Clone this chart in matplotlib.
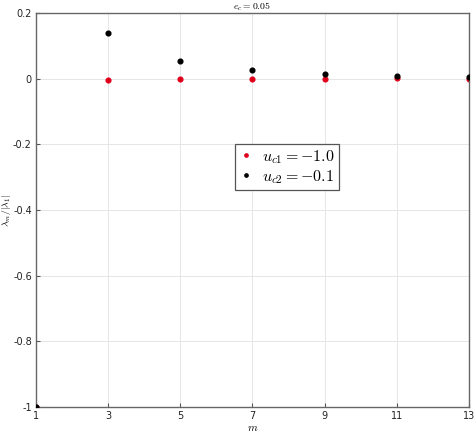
import matplotlib.pyplot as plt
from matplotlib.ticker import FuncFormatter

plt.rcParams["mathtext.fontset"] = "cm"

# ---- data ----
m = [1, 3, 5, 7, 9, 11, 13]
u_c1 = [-1.0, -0.005, 0.0, 0.0, 0.0, 0.001, 0.0]      # red
u_c2 = [-1.0, 0.140, 0.055, 0.027, 0.015, 0.009, 0.005]  # black
TITLE = r"$e_c = 0.05$"
# --------------

fig = plt.figure(figsize=(4.74, 4.34), dpi=100)
ax = fig.add_axes([0.076, 0.062, 0.913, 0.908])

ax.plot(m, u_c1, "o", color="#e0001b", markersize=3.4, label=r"$u_{c1} = -1.0$", zorder=2)
ax.plot(m, u_c2, "o", color="black", markersize=3.4, label=r"$u_{c2} = -0.1$", zorder=3)

ax.set_xlim(1, 13)
ax.set_ylim(-1, 0.2)
ax.set_xticks(m)
ax.set_yticks([-1, -0.8, -0.6, -0.4, -0.2, 0, 0.2])
ax.yaxis.set_major_formatter(FuncFormatter(lambda v, pos: f"{v:g}"))

ax.grid(True, color="#e6e6e6", linewidth=0.7)
ax.set_axisbelow(True)
ax.tick_params(direction="in", length=3, labelsize=7, color="#555555",
               labelcolor="#222222", pad=3)
for s in ax.spines.values():
    s.set_color("#666666")
    s.set_linewidth(1.0)

ax.set_xlabel(r"$m$", fontsize=8, labelpad=1)
ax.set_ylabel(r"$\lambda_m/|\lambda_1|$", fontsize=7, labelpad=0)
ax.set_title(TITLE, fontsize=7, pad=0)

leg = ax.legend(loc="center", bbox_to_anchor=(0.58, 0.61), fontsize=11.5,
                fancybox=False, edgecolor="#555555", framealpha=1,
                handlelength=0.8, handletextpad=0.6, borderpad=0.25,
                labelspacing=0.15, markerscale=0.7)
leg.get_frame().set_linewidth(0.9)

fig.savefig("out.png", dpi=100)
